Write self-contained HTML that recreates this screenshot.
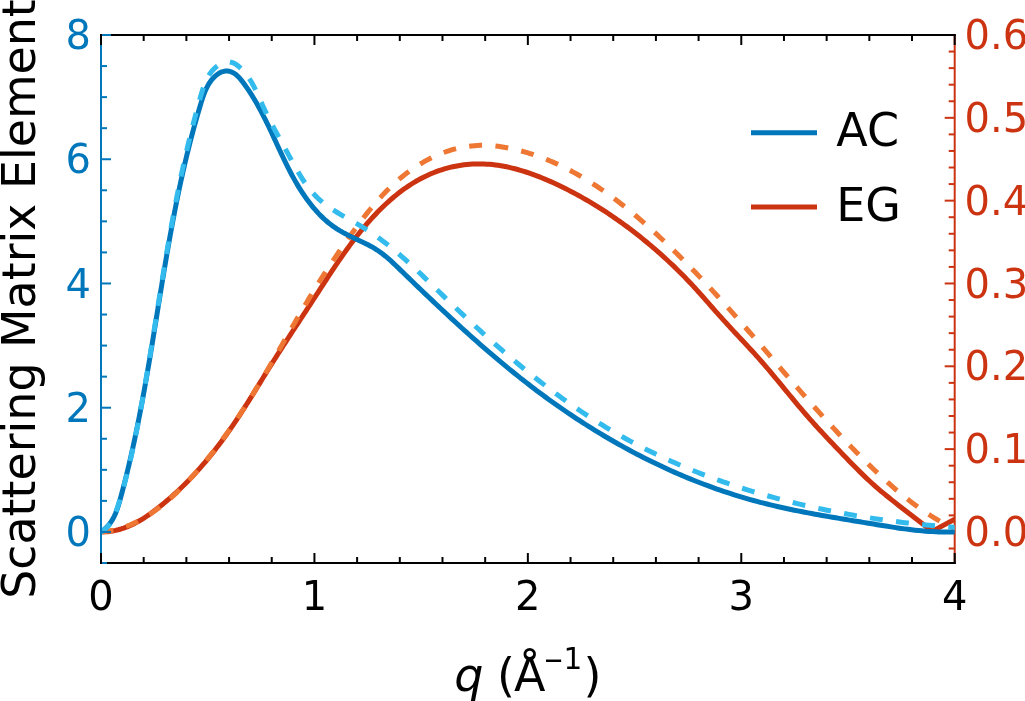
<!DOCTYPE html>
<html><head><meta charset="utf-8"><style>
html,body{margin:0;padding:0;background:#fff;overflow:hidden;}
svg{display:block;}
</style></head><body>
<svg width="1025" height="701" viewBox="0 0 1025 701">
<rect width="1025" height="701" fill="#fff"/>
<defs><clipPath id="ax"><rect x="101.0" y="35.0" width="853.7" height="528.0"/></clipPath></defs>
<line x1="954.70" y1="35.00" x2="954.70" y2="563.00" stroke="#CC3311" stroke-width="2"/>
<g><line x1="948.70" y1="548.51" x2="954.70" y2="548.51" stroke="#CC3311" stroke-width="2"/><line x1="944.70" y1="531.94" x2="954.70" y2="531.94" stroke="#CC3311" stroke-width="2"/><line x1="948.70" y1="515.38" x2="954.70" y2="515.38" stroke="#CC3311" stroke-width="2"/><line x1="948.70" y1="498.81" x2="954.70" y2="498.81" stroke="#CC3311" stroke-width="2"/><line x1="948.70" y1="482.25" x2="954.70" y2="482.25" stroke="#CC3311" stroke-width="2"/><line x1="948.70" y1="465.68" x2="954.70" y2="465.68" stroke="#CC3311" stroke-width="2"/><line x1="944.70" y1="449.12" x2="954.70" y2="449.12" stroke="#CC3311" stroke-width="2"/><line x1="948.70" y1="432.55" x2="954.70" y2="432.55" stroke="#CC3311" stroke-width="2"/><line x1="948.70" y1="415.99" x2="954.70" y2="415.99" stroke="#CC3311" stroke-width="2"/><line x1="948.70" y1="399.42" x2="954.70" y2="399.42" stroke="#CC3311" stroke-width="2"/><line x1="948.70" y1="382.86" x2="954.70" y2="382.86" stroke="#CC3311" stroke-width="2"/><line x1="944.70" y1="366.29" x2="954.70" y2="366.29" stroke="#CC3311" stroke-width="2"/><line x1="948.70" y1="349.73" x2="954.70" y2="349.73" stroke="#CC3311" stroke-width="2"/><line x1="948.70" y1="333.16" x2="954.70" y2="333.16" stroke="#CC3311" stroke-width="2"/><line x1="948.70" y1="316.60" x2="954.70" y2="316.60" stroke="#CC3311" stroke-width="2"/><line x1="948.70" y1="300.04" x2="954.70" y2="300.04" stroke="#CC3311" stroke-width="2"/><line x1="944.70" y1="283.47" x2="954.70" y2="283.47" stroke="#CC3311" stroke-width="2"/><line x1="948.70" y1="266.91" x2="954.70" y2="266.91" stroke="#CC3311" stroke-width="2"/><line x1="948.70" y1="250.34" x2="954.70" y2="250.34" stroke="#CC3311" stroke-width="2"/><line x1="948.70" y1="233.78" x2="954.70" y2="233.78" stroke="#CC3311" stroke-width="2"/><line x1="948.70" y1="217.21" x2="954.70" y2="217.21" stroke="#CC3311" stroke-width="2"/><line x1="944.70" y1="200.65" x2="954.70" y2="200.65" stroke="#CC3311" stroke-width="2"/><line x1="948.70" y1="184.08" x2="954.70" y2="184.08" stroke="#CC3311" stroke-width="2"/><line x1="948.70" y1="167.52" x2="954.70" y2="167.52" stroke="#CC3311" stroke-width="2"/><line x1="948.70" y1="150.95" x2="954.70" y2="150.95" stroke="#CC3311" stroke-width="2"/><line x1="948.70" y1="134.39" x2="954.70" y2="134.39" stroke="#CC3311" stroke-width="2"/><line x1="944.70" y1="117.82" x2="954.70" y2="117.82" stroke="#CC3311" stroke-width="2"/><line x1="948.70" y1="101.26" x2="954.70" y2="101.26" stroke="#CC3311" stroke-width="2"/><line x1="948.70" y1="84.69" x2="954.70" y2="84.69" stroke="#CC3311" stroke-width="2"/><line x1="948.70" y1="68.13" x2="954.70" y2="68.13" stroke="#CC3311" stroke-width="2"/><line x1="948.70" y1="51.56" x2="954.70" y2="51.56" stroke="#CC3311" stroke-width="2"/><line x1="944.70" y1="35.00" x2="954.70" y2="35.00" stroke="#CC3311" stroke-width="2"/></g>
<g clip-path="url(#ax)" fill="none" stroke-width="5" stroke-linejoin="round">
<path d="M101.00,531.90 L103.99,531.87 L106.94,531.70 L109.84,531.39 L112.69,530.97 L115.50,530.42 L118.27,529.76 L121.00,528.99 L123.69,528.11 L126.34,527.14 L128.95,526.07 L131.53,524.92 L134.07,523.69 L136.59,522.37 L139.07,520.99 L141.51,519.54 L143.94,518.04 L146.33,516.47 L148.70,514.86 L151.04,513.21 L153.36,511.51 L155.66,509.79 L157.94,508.03 L160.19,506.26 L162.43,504.46 L164.65,502.63 L166.85,500.79 L169.03,498.92 L171.19,497.03 L173.34,495.12 L175.46,493.19 L177.57,491.23 L179.66,489.26 L181.73,487.27 L183.78,485.26 L185.81,483.23 L187.83,481.18 L189.83,479.12 L191.81,477.04 L193.77,474.94 L195.72,472.82 L197.65,470.69 L199.56,468.54 L201.46,466.38 L203.34,464.20 L205.20,462.01 L207.05,459.80 L208.88,457.58 L210.70,455.35 L212.49,453.10 L214.28,450.84 L216.04,448.57 L217.80,446.29 L219.53,444.00 L221.25,441.70 L222.96,439.39 L224.65,437.06 L226.33,434.73 L227.99,432.39 L229.64,430.04 L231.27,427.68 L232.89,425.32 L234.50,422.95 L236.09,420.57 L237.68,418.18 L239.25,415.79 L240.81,413.39 L242.36,410.99 L243.91,408.58 L245.44,406.17 L246.97,403.75 L248.50,401.33 L250.02,398.91 L251.53,396.48 L253.04,394.06 L254.54,391.62 L256.05,389.19 L257.55,386.76 L259.05,384.32 L260.55,381.88 L262.05,379.45 L263.55,377.01 L265.05,374.57 L266.56,372.14 L268.06,369.70 L269.58,367.27 L271.09,364.84 L272.62,362.41 L274.14,359.98 L275.68,357.56 L277.22,355.14 L278.76,352.72 L280.31,350.30 L281.86,347.89 L283.42,345.47 L284.97,343.06 L286.54,340.65 L288.10,338.24 L289.67,335.83 L291.24,333.42 L292.81,331.01 L294.38,328.61 L295.96,326.20 L297.53,323.80 L299.11,321.40 L300.68,318.99 L302.26,316.59 L303.83,314.19 L305.41,311.78 L306.98,309.38 L308.55,306.97 L310.12,304.57 L311.69,302.16 L313.25,299.76 L314.82,297.35 L316.38,294.95 L317.94,292.54 L319.49,290.13 L321.05,287.72 L322.61,285.32 L324.17,282.92 L325.73,280.52 L327.29,278.12 L328.86,275.72 L330.43,273.33 L332.01,270.95 L333.60,268.56 L335.19,266.19 L336.79,263.82 L338.40,261.45 L340.02,259.09 L341.65,256.74 L343.29,254.40 L344.94,252.07 L346.60,249.74 L348.28,247.43 L349.97,245.12 L351.68,242.82 L353.40,240.54 L355.15,238.27 L356.90,236.01 L358.68,233.76 L360.48,231.52 L362.30,229.30 L364.13,227.09 L365.99,224.89 L367.87,222.71 L369.78,220.55 L371.71,218.40 L373.66,216.28 L375.64,214.17 L377.64,212.09 L379.66,210.03 L381.71,207.99 L383.78,205.98 L385.88,204.00 L388.01,202.05 L390.16,200.13 L392.33,198.24 L394.53,196.39 L396.76,194.58 L399.02,192.80 L401.30,191.06 L403.61,189.36 L405.94,187.70 L408.31,186.09 L410.70,184.52 L413.12,183.00 L415.56,181.53 L418.04,180.11 L420.54,178.74 L423.08,177.42 L425.64,176.15 L428.23,174.95 L430.86,173.80 L433.51,172.71 L436.19,171.68 L438.89,170.71 L441.62,169.80 L444.38,168.95 L447.15,168.17 L449.94,167.45 L452.74,166.79 L455.56,166.20 L458.39,165.67 L461.23,165.21 L464.07,164.82 L466.92,164.49 L469.77,164.23 L472.62,164.05 L475.47,163.93 L478.32,163.88 L481.16,163.89 L484.00,163.98 L486.84,164.13 L489.67,164.34 L492.50,164.61 L495.32,164.94 L498.14,165.33 L500.95,165.77 L503.75,166.27 L506.55,166.82 L509.34,167.42 L512.13,168.07 L514.90,168.77 L517.67,169.51 L520.44,170.30 L523.19,171.13 L525.94,172.00 L528.67,172.91 L531.40,173.86 L534.12,174.85 L536.82,175.86 L539.52,176.91 L542.21,177.99 L544.89,179.10 L547.55,180.24 L550.21,181.40 L552.85,182.59 L555.48,183.80 L558.10,185.03 L560.70,186.28 L563.29,187.55 L565.87,188.83 L568.44,190.13 L571.00,191.45 L573.54,192.79 L576.07,194.14 L578.59,195.52 L581.09,196.90 L583.59,198.31 L586.07,199.73 L588.54,201.17 L591.00,202.62 L593.44,204.10 L595.88,205.58 L598.30,207.09 L600.72,208.61 L603.12,210.15 L605.51,211.70 L607.89,213.27 L610.26,214.85 L612.62,216.45 L614.97,218.07 L617.31,219.70 L619.64,221.34 L621.96,223.00 L624.27,224.68 L626.56,226.37 L628.85,228.08 L631.13,229.80 L633.40,231.54 L635.66,233.29 L637.91,235.05 L640.16,236.83 L642.39,238.63 L644.61,240.44 L646.83,242.26 L649.03,244.09 L651.23,245.94 L653.42,247.81 L655.60,249.69 L657.76,251.58 L659.92,253.48 L662.07,255.40 L664.21,257.33 L666.33,259.27 L668.45,261.23 L670.55,263.20 L672.64,265.18 L674.72,267.17 L676.79,269.18 L678.84,271.20 L680.88,273.23 L682.90,275.27 L684.92,277.32 L686.92,279.39 L688.90,281.46 L690.87,283.55 L692.82,285.65 L694.76,287.76 L696.69,289.88 L698.60,292.01 L700.51,294.14 L702.41,296.28 L704.30,298.42 L706.18,300.57 L708.07,302.72 L709.95,304.87 L711.84,307.01 L713.73,309.15 L715.62,311.29 L717.52,313.43 L719.43,315.56 L721.34,317.68 L723.25,319.80 L725.17,321.91 L727.10,324.03 L729.03,326.13 L730.97,328.24 L732.91,330.33 L734.86,332.43 L736.81,334.52 L738.77,336.61 L740.72,338.70 L742.68,340.79 L744.63,342.88 L746.59,344.98 L748.53,347.08 L750.47,349.19 L752.40,351.30 L754.33,353.43 L756.24,355.56 L758.15,357.69 L760.05,359.84 L761.94,361.99 L763.82,364.15 L765.70,366.32 L767.56,368.50 L769.41,370.68 L771.26,372.88 L773.10,375.07 L774.94,377.28 L776.77,379.48 L778.59,381.70 L780.42,383.91 L782.24,386.13 L784.06,388.34 L785.88,390.56 L787.70,392.78 L789.52,394.99 L791.34,397.20 L793.17,399.42 L795.00,401.62 L796.83,403.83 L798.68,406.02 L800.52,408.22 L802.38,410.40 L804.24,412.58 L806.12,414.75 L808.00,416.91 L809.89,419.06 L811.80,421.20 L813.71,423.33 L815.63,425.46 L817.56,427.58 L819.50,429.69 L821.44,431.80 L823.40,433.90 L825.35,436.00 L827.31,438.09 L829.28,440.17 L831.25,442.26 L833.23,444.34 L835.21,446.42 L837.19,448.49 L839.17,450.57 L841.15,452.64 L843.14,454.71 L845.13,456.78 L847.12,458.85 L849.12,460.91 L851.12,462.97 L853.12,465.02 L855.14,467.06 L857.16,469.09 L859.19,471.11 L861.24,473.12 L863.29,475.12 L865.36,477.11 L867.44,479.08 L869.53,481.03 L871.64,482.97 L873.77,484.89 L875.91,486.79 L878.07,488.66 L880.24,490.53 L882.44,492.37 L884.64,494.20 L886.86,496.01 L889.09,497.81 L891.33,499.60 L893.58,501.38 L895.83,503.15 L898.09,504.91 L900.36,506.67 L902.63,508.42 L904.91,510.17 L907.19,511.92 L909.46,513.67 L911.74,515.41 L914.01,517.16 L916.29,518.92 L918.55,520.67 L920.82,522.44 L923.07,524.21 L925.32,525.99 L927.56,527.78 L929.78,529.58 L932.00,531.40" stroke="#CC3311"/>
<path d="M932.00,531.40 L957.00,518.00" stroke="#CC3311"/>
<path d="M101.00,531.91 L104.04,531.65 L107.05,531.29 L110.02,530.83 L112.95,530.27 L115.84,529.61 L118.70,528.87 L121.52,528.03 L124.30,527.11 L127.06,526.11 L129.78,525.03 L132.46,523.87 L135.12,522.64 L137.74,521.35 L140.34,519.98 L142.90,518.56 L145.43,517.07 L147.93,515.53 L150.41,513.93 L152.86,512.28 L155.28,510.57 L157.67,508.82 L160.03,507.02 L162.37,505.18 L164.69,503.30 L166.98,501.38 L169.24,499.42 L171.48,497.43 L173.70,495.40 L175.89,493.34 L178.06,491.26 L180.21,489.15 L182.34,487.02 L184.45,484.86 L186.54,482.69 L188.60,480.50 L190.65,478.30 L192.68,476.08 L194.68,473.86 L196.68,471.62 L198.65,469.36 L200.60,467.10 L202.54,464.83 L204.46,462.54 L206.36,460.24 L208.25,457.93 L210.12,455.61 L211.97,453.28 L213.81,450.94 L215.64,448.59 L217.45,446.23 L219.24,443.86 L221.02,441.48 L222.79,439.09 L224.54,436.69 L226.28,434.29 L228.01,431.87 L229.72,429.44 L231.42,427.01 L233.11,424.57 L234.79,422.12 L236.46,419.66 L238.11,417.20 L239.76,414.72 L241.39,412.24 L243.02,409.75 L244.63,407.26 L246.24,404.76 L247.84,402.25 L249.42,399.73 L251.00,397.21 L252.57,394.69 L254.14,392.15 L255.69,389.62 L257.24,387.07 L258.79,384.52 L260.32,381.97 L261.85,379.42 L263.38,376.85 L264.90,374.29 L266.41,371.72 L267.93,369.15 L269.43,366.58 L270.94,364.00 L272.43,361.42 L273.93,358.84 L275.43,356.26 L276.92,353.68 L278.41,351.09 L279.90,348.51 L281.38,345.92 L282.87,343.34 L284.36,340.75 L285.84,338.17 L287.33,335.58 L288.82,333.00 L290.30,330.42 L291.79,327.83 L293.28,325.25 L294.78,322.68 L296.27,320.10 L297.77,317.53 L299.27,314.96 L300.78,312.39 L302.29,309.83 L303.80,307.27 L305.32,304.72 L306.84,302.17 L308.37,299.62 L309.90,297.08 L311.44,294.54 L312.99,292.01 L314.54,289.48 L316.10,286.96 L317.66,284.44 L319.24,281.93 L320.82,279.42 L322.40,276.92 L324.00,274.42 L325.60,271.93 L327.21,269.44 L328.83,266.95 L330.45,264.47 L332.09,261.99 L333.73,259.52 L335.38,257.05 L337.04,254.58 L338.71,252.12 L340.39,249.67 L342.08,247.21 L343.78,244.77 L345.49,242.32 L347.21,239.88 L348.94,237.45 L350.69,235.01 L352.44,232.59 L354.20,230.16 L355.98,227.74 L357.76,225.33 L359.56,222.92 L361.38,220.53 L363.21,218.14 L365.06,215.76 L366.92,213.40 L368.81,211.05 L370.71,208.72 L372.63,206.41 L374.57,204.12 L376.54,201.85 L378.52,199.60 L380.54,197.37 L382.57,195.17 L384.63,192.99 L386.72,190.85 L388.84,188.73 L390.98,186.65 L393.15,184.59 L395.36,182.57 L397.59,180.59 L399.86,178.64 L402.16,176.74 L404.49,174.87 L406.86,173.04 L409.26,171.26 L411.70,169.52 L414.16,167.83 L416.66,166.19 L419.19,164.60 L421.74,163.05 L424.32,161.56 L426.93,160.13 L429.57,158.75 L432.23,157.43 L434.91,156.17 L437.62,154.97 L440.35,153.83 L443.10,152.75 L445.87,151.75 L448.66,150.80 L451.47,149.93 L454.29,149.13 L457.13,148.40 L459.99,147.75 L462.86,147.17 L465.75,146.67 L468.64,146.24 L471.55,145.90 L474.47,145.64 L477.40,145.46 L480.34,145.36 L483.28,145.34 L486.23,145.40 L489.18,145.53 L492.14,145.73 L495.09,145.99 L498.05,146.33 L501.00,146.72 L503.95,147.18 L506.90,147.69 L509.83,148.26 L512.77,148.88 L515.69,149.55 L518.60,150.26 L521.50,151.03 L524.38,151.83 L527.25,152.68 L530.10,153.56 L532.94,154.48 L535.77,155.43 L538.57,156.42 L541.36,157.45 L544.14,158.51 L546.90,159.61 L549.64,160.74 L552.38,161.90 L555.09,163.10 L557.79,164.33 L560.48,165.59 L563.15,166.87 L565.81,168.19 L568.45,169.54 L571.08,170.92 L573.69,172.33 L576.29,173.76 L578.88,175.23 L581.45,176.71 L584.01,178.23 L586.56,179.77 L589.09,181.33 L591.61,182.92 L594.12,184.53 L596.62,186.17 L599.10,187.83 L601.57,189.51 L604.02,191.21 L606.47,192.93 L608.90,194.68 L611.32,196.44 L613.73,198.22 L616.12,200.02 L618.51,201.84 L620.88,203.67 L623.24,205.53 L625.59,207.39 L627.93,209.28 L630.25,211.18 L632.57,213.09 L634.88,215.02 L637.17,216.96 L639.45,218.91 L641.73,220.87 L643.99,222.85 L646.24,224.84 L648.49,226.84 L650.72,228.84 L652.94,230.86 L655.16,232.88 L657.36,234.92 L659.55,236.96 L661.74,239.00 L663.91,241.06 L666.08,243.12 L668.24,245.18 L670.39,247.26 L672.53,249.34 L674.66,251.42 L676.78,253.52 L678.90,255.61 L681.01,257.72 L683.11,259.83 L685.20,261.94 L687.29,264.07 L689.37,266.19 L691.44,268.32 L693.50,270.46 L695.56,272.60 L697.62,274.75 L699.66,276.90 L701.70,279.06 L703.74,281.22 L705.77,283.39 L707.79,285.56 L709.81,287.74 L711.82,289.92 L713.83,292.10 L715.83,294.29 L717.83,296.48 L719.82,298.67 L721.81,300.87 L723.80,303.08 L725.78,305.28 L727.76,307.49 L729.73,309.71 L731.70,311.92 L733.67,314.14 L735.63,316.36 L737.59,318.59 L739.55,320.82 L741.51,323.05 L743.46,325.28 L745.42,327.51 L747.37,329.75 L749.31,331.99 L751.26,334.23 L753.21,336.48 L755.15,338.72 L757.09,340.97 L759.03,343.22 L760.97,345.47 L762.91,347.72 L764.85,349.97 L766.79,352.23 L768.73,354.48 L770.67,356.74 L772.61,358.99 L774.55,361.25 L776.49,363.51 L778.43,365.77 L780.38,368.03 L782.32,370.28 L784.26,372.54 L786.21,374.80 L788.16,377.05 L790.10,379.31 L792.05,381.56 L794.01,383.82 L795.96,386.07 L797.92,388.32 L799.88,390.57 L801.84,392.81 L803.80,395.06 L805.77,397.30 L807.74,399.54 L809.71,401.78 L811.69,404.01 L813.67,406.25 L815.65,408.47 L817.64,410.70 L819.63,412.92 L821.63,415.14 L823.63,417.35 L825.63,419.57 L827.64,421.77 L829.66,423.97 L831.67,426.17 L833.70,428.37 L835.73,430.55 L837.76,432.74 L839.80,434.92 L841.85,437.09 L843.90,439.26 L845.95,441.42 L848.02,443.57 L850.09,445.72 L852.16,447.87 L854.24,450.01 L856.33,452.14 L858.43,454.26 L860.53,456.38 L862.64,458.49 L864.76,460.59 L866.88,462.69 L869.02,464.78 L871.16,466.86 L873.31,468.93 L875.46,470.99 L877.63,473.05 L879.80,475.09 L881.99,477.13 L884.18,479.15 L886.39,481.16 L888.60,483.15 L890.83,485.13 L893.07,487.10 L895.32,489.05 L897.58,490.98 L899.86,492.90 L902.15,494.79 L904.46,496.67 L906.78,498.52 L909.12,500.36 L911.47,502.17 L913.84,503.96 L916.22,505.73 L918.62,507.47 L921.04,509.18 L923.48,510.87 L925.93,512.53 L928.41,514.16 L930.90,515.77 L933.41,517.34 L935.95,518.88 L938.50,520.39 L941.08,521.87 L943.67,523.31 L946.29,524.72 L948.93,526.10 L951.60,527.44 L954.29,528.74 L957.00,530.01" stroke="#EE7733" stroke-dasharray="12.9 13.38" stroke-dashoffset="0.5"/>
</g>
<g clip-path="url(#ax)" fill="none" stroke-width="5" stroke-linejoin="round">
<path d="M101.00,531.90 L103.98,529.70 L106.62,527.30 L108.94,524.71 L110.98,521.96 L112.78,519.07 L114.35,516.06 L115.74,512.94 L116.97,509.73 L118.08,506.45 L119.10,503.12 L120.05,499.76 L120.97,496.38 L121.88,493.00 L122.78,489.61 L123.67,486.23 L124.54,482.83 L125.40,479.44 L126.24,476.04 L127.08,472.64 L127.90,469.24 L128.72,465.83 L129.52,462.42 L130.31,459.01 L131.09,455.59 L131.86,452.17 L132.62,448.75 L133.37,445.33 L134.11,441.90 L134.84,438.48 L135.56,435.05 L136.27,431.62 L136.98,428.19 L137.67,424.75 L138.36,421.32 L139.04,417.88 L139.71,414.44 L140.38,411.00 L141.03,407.56 L141.68,404.12 L142.33,400.67 L142.96,397.23 L143.59,393.79 L144.22,390.34 L144.84,386.90 L145.45,383.45 L146.06,380.01 L146.66,376.56 L147.26,373.11 L147.85,369.67 L148.44,366.22 L149.03,362.78 L149.61,359.33 L150.19,355.89 L150.76,352.44 L151.33,349.00 L151.90,345.55 L152.47,342.11 L153.03,338.67 L153.59,335.22 L154.15,331.78 L154.71,328.34 L155.27,324.90 L155.83,321.45 L156.38,318.01 L156.94,314.57 L157.49,311.13 L158.05,307.69 L158.60,304.25 L159.16,300.81 L159.72,297.37 L160.27,293.93 L160.83,290.49 L161.40,287.05 L161.96,283.62 L162.52,280.18 L163.09,276.74 L163.66,273.31 L164.23,269.87 L164.81,266.44 L165.39,263.00 L165.97,259.57 L166.56,256.14 L167.15,252.70 L167.75,249.27 L168.35,245.84 L168.95,242.41 L169.56,238.98 L170.18,235.55 L170.80,232.12 L171.43,228.69 L172.06,225.26 L172.70,221.83 L173.35,218.41 L174.01,214.98 L174.67,211.56 L175.34,208.13 L176.01,204.71 L176.70,201.28 L177.39,197.86 L178.09,194.44 L178.81,191.02 L179.53,187.60 L180.25,184.18 L180.99,180.76 L181.74,177.34 L182.50,173.92 L183.27,170.51 L184.05,167.09 L184.84,163.68 L185.64,160.26 L186.46,156.85 L187.28,153.44 L188.12,150.03 L188.97,146.62 L189.83,143.21 L190.70,139.80 L191.59,136.39 L192.49,132.99 L193.40,129.58 L194.33,126.18 L195.27,122.77 L196.23,119.37 L197.20,115.97 L198.18,112.57 L199.18,109.17 L200.20,105.77 L201.23,102.37 L202.29,98.99 L203.43,95.64 L204.67,92.35 L206.05,89.15 L207.61,86.04 L209.37,83.06 L211.38,80.23 L213.66,77.58 L216.20,75.20 L218.95,73.23 L221.85,71.81 L224.86,71.08 L227.88,71.03 L230.85,71.65 L233.67,72.94 L236.31,74.83 L238.77,77.20 L241.09,79.89 L243.31,82.78 L245.45,85.72 L247.52,88.68 L249.52,91.67 L251.46,94.68 L253.35,97.71 L255.17,100.77 L256.95,103.84 L258.68,106.92 L260.37,110.03 L262.02,113.14 L263.63,116.27 L265.21,119.40 L266.77,122.55 L268.29,125.70 L269.80,128.86 L271.29,132.02 L272.76,135.18 L274.22,138.35 L275.68,141.51 L277.14,144.68 L278.59,147.84 L280.05,150.99 L281.52,154.13 L283.00,157.27 L284.50,160.40 L286.01,163.52 L287.55,166.62 L289.11,169.71 L290.71,172.78 L292.34,175.84 L294.01,178.87 L295.71,181.89 L297.47,184.88 L299.27,187.85 L301.13,190.79 L303.04,193.70 L305.01,196.59 L307.04,199.45 L309.15,202.27 L311.32,205.06 L313.56,207.80 L315.87,210.49 L318.25,213.11 L320.70,215.66 L323.22,218.12 L325.81,220.48 L328.47,222.74 L331.21,224.89 L334.01,226.92 L336.88,228.84 L339.81,230.66 L342.81,232.39 L345.87,234.05 L348.98,235.63 L352.14,237.17 L355.32,238.68 L358.51,240.18 L361.70,241.69 L364.87,243.22 L368.00,244.80 L371.09,246.45 L374.12,248.18 L377.07,250.02 L379.93,251.97 L382.72,254.04 L385.43,256.20 L388.08,258.44 L390.68,260.74 L393.24,263.10 L395.78,265.50 L398.29,267.92 L400.80,270.35 L403.31,272.78 L405.82,275.22 L408.34,277.65 L410.85,280.07 L413.37,282.50 L415.89,284.93 L418.41,287.35 L420.93,289.77 L423.46,292.19 L425.99,294.60 L428.52,297.01 L431.06,299.42 L433.60,301.82 L436.14,304.22 L438.68,306.62 L441.23,309.01 L443.79,311.40 L446.34,313.79 L448.90,316.17 L451.47,318.54 L454.04,320.91 L456.62,323.27 L459.20,325.63 L461.78,327.98 L464.37,330.33 L466.97,332.67 L469.57,335.00 L472.17,337.33 L474.79,339.65 L477.40,341.96 L480.03,344.27 L482.66,346.57 L485.30,348.86 L487.94,351.14 L490.59,353.41 L493.25,355.68 L495.91,357.94 L498.58,360.19 L501.26,362.43 L503.94,364.66 L506.64,366.88 L509.34,369.09 L512.05,371.29 L514.76,373.49 L517.49,375.67 L520.22,377.84 L522.97,380.00 L525.72,382.15 L528.48,384.29 L531.24,386.42 L534.02,388.54 L536.81,390.64 L539.61,392.73 L542.41,394.81 L545.23,396.88 L548.05,398.94 L550.89,400.98 L553.73,403.01 L556.59,405.03 L559.45,407.04 L562.32,409.03 L565.21,411.01 L568.10,412.98 L571.00,414.93 L573.91,416.87 L576.83,418.79 L579.75,420.71 L582.69,422.60 L585.64,424.49 L588.59,426.36 L591.55,428.21 L594.53,430.05 L597.51,431.88 L600.50,433.69 L603.50,435.48 L606.51,437.27 L609.52,439.03 L612.55,440.78 L615.58,442.52 L618.62,444.24 L621.67,445.94 L624.73,447.63 L627.80,449.30 L630.87,450.95 L633.96,452.59 L637.05,454.21 L640.15,455.82 L643.26,457.41 L646.38,458.98 L649.50,460.54 L652.64,462.07 L655.78,463.59 L658.93,465.10 L662.08,466.58 L665.25,468.05 L668.42,469.50 L671.60,470.93 L674.79,472.35 L677.99,473.74 L681.19,475.12 L684.40,476.48 L687.62,477.82 L690.85,479.14 L694.09,480.45 L697.33,481.73 L700.58,482.99 L703.83,484.24 L707.10,485.46 L710.37,486.67 L713.65,487.86 L716.94,489.02 L720.23,490.17 L723.53,491.29 L726.84,492.40 L730.15,493.48 L733.47,494.55 L736.80,495.59 L740.14,496.62 L743.48,497.62 L746.83,498.60 L750.19,499.56 L753.55,500.50 L756.92,501.41 L760.30,502.31 L763.68,503.18 L767.07,504.04 L770.47,504.87 L773.87,505.68 L777.28,506.47 L780.69,507.25 L784.10,508.01 L787.53,508.75 L790.95,509.48 L794.38,510.19 L797.82,510.89 L801.25,511.57 L804.69,512.24 L808.14,512.90 L811.58,513.55 L815.03,514.18 L818.48,514.81 L821.93,515.43 L825.38,516.03 L828.84,516.64 L832.29,517.23 L835.75,517.82 L839.20,518.40 L842.66,518.98 L846.11,519.55 L849.57,520.12 L853.02,520.69 L856.47,521.26 L859.93,521.83 L863.37,522.39 L866.82,522.96 L870.27,523.52 L873.71,524.09 L877.15,524.66 L880.59,525.22 L884.02,525.78 L887.46,526.33 L890.90,526.87 L894.33,527.40 L897.77,527.91 L901.21,528.41 L904.66,528.88 L908.10,529.33 L911.56,529.75 L915.01,530.15 L918.47,530.51 L921.93,530.84 L925.40,531.14 L928.88,531.40 L932.37,531.62 L935.86,531.79 L939.36,531.92 L942.87,532.00 L946.38,532.03 L949.91,532.01 L953.45,531.93 L957.00,531.80" stroke="#0077BB"/>
<path d="M101.00,531.90 L104.12,529.89 L106.81,527.57 L109.12,524.99 L111.11,522.18 L112.82,519.19 L114.30,516.04 L115.60,512.78 L116.79,509.44 L117.89,506.07 L118.96,502.69 L120.01,499.30 L121.02,495.92 L122.02,492.53 L122.98,489.14 L123.93,485.75 L124.85,482.35 L125.75,478.96 L126.62,475.56 L127.48,472.15 L128.32,468.75 L129.14,465.34 L129.94,461.94 L130.73,458.53 L131.50,455.11 L132.25,451.70 L133.00,448.28 L133.72,444.86 L134.44,441.43 L135.14,438.01 L135.84,434.58 L136.52,431.15 L137.20,427.71 L137.86,424.28 L138.53,420.84 L139.18,417.40 L139.83,413.95 L140.47,410.51 L141.11,407.06 L141.74,403.61 L142.36,400.16 L142.98,396.70 L143.59,393.25 L144.20,389.79 L144.81,386.33 L145.41,382.86 L146.01,379.40 L146.60,375.94 L147.19,372.47 L147.77,369.00 L148.35,365.53 L148.93,362.06 L149.51,358.59 L150.08,355.12 L150.65,351.65 L151.22,348.17 L151.78,344.70 L152.35,341.22 L152.91,337.75 L153.47,334.27 L154.03,330.79 L154.59,327.31 L155.14,323.84 L155.70,320.36 L156.26,316.88 L156.81,313.40 L157.37,309.93 L157.92,306.45 L158.48,302.97 L159.04,299.50 L159.60,296.02 L160.15,292.54 L160.71,289.07 L161.28,285.60 L161.84,282.12 L162.40,278.65 L162.97,275.18 L163.54,271.71 L164.11,268.24 L164.68,264.77 L165.26,261.30 L165.84,257.84 L166.43,254.37 L167.01,250.91 L167.60,247.45 L168.20,243.99 L168.80,240.53 L169.40,237.08 L170.01,233.63 L170.62,230.17 L171.24,226.73 L171.86,223.28 L172.49,219.83 L173.12,216.39 L173.76,212.95 L174.40,209.52 L175.06,206.08 L175.71,202.65 L176.38,199.22 L177.05,195.80 L177.73,192.37 L178.41,188.95 L179.11,185.54 L179.81,182.13 L180.52,178.72 L181.23,175.31 L181.96,171.91 L182.69,168.50 L183.43,165.10 L184.19,161.70 L184.95,158.30 L185.72,154.90 L186.50,151.50 L187.29,148.10 L188.09,144.69 L188.91,141.29 L189.73,137.87 L190.57,134.46 L191.42,131.04 L192.28,127.61 L193.15,124.18 L194.04,120.74 L194.94,117.29 L195.85,113.84 L196.78,110.38 L197.72,106.91 L198.67,103.43 L199.64,99.93 L200.62,96.43 L201.64,92.94 L202.72,89.48 L203.88,86.09 L205.16,82.78 L206.59,79.60 L208.18,76.56 L209.96,73.69 L211.98,71.03 L214.24,68.59 L216.78,66.41 L219.62,64.52 L222.74,63.01 L226.00,62.06 L229.28,61.87 L232.45,62.58 L235.47,64.06 L238.32,66.10 L240.99,68.49 L243.46,71.05 L245.75,73.76 L247.87,76.59 L249.85,79.53 L251.70,82.56 L253.44,85.68 L255.08,88.86 L256.65,92.08 L258.17,95.35 L259.64,98.63 L261.09,101.91 L262.55,105.18 L264.01,108.42 L265.51,111.63 L267.03,114.80 L268.58,117.93 L270.15,121.04 L271.75,124.13 L273.36,127.19 L275.00,130.24 L276.64,133.28 L278.31,136.32 L279.98,139.35 L281.66,142.39 L283.35,145.43 L285.04,148.48 L286.74,151.55 L288.43,154.64 L290.13,157.74 L291.83,160.86 L293.55,163.98 L295.29,167.10 L297.06,170.20 L298.86,173.27 L300.71,176.31 L302.62,179.31 L304.58,182.25 L306.60,185.13 L308.70,187.94 L310.88,190.67 L313.15,193.32 L315.52,195.86 L317.99,198.29 L320.56,200.62 L323.24,202.84 L326.00,204.97 L328.83,207.01 L331.74,208.98 L334.71,210.89 L337.72,212.75 L340.77,214.57 L343.85,216.36 L346.95,218.13 L350.06,219.88 L353.17,221.64 L356.27,223.41 L359.35,225.20 L362.39,227.03 L365.40,228.89 L368.37,230.80 L371.30,232.74 L374.20,234.72 L377.06,236.74 L379.89,238.79 L382.69,240.88 L385.46,243.00 L388.20,245.15 L390.91,247.33 L393.60,249.53 L396.27,251.76 L398.92,254.02 L401.54,256.29 L404.15,258.59 L406.74,260.91 L409.31,263.25 L411.87,265.61 L414.42,267.98 L416.95,270.36 L419.48,272.76 L422.00,275.17 L424.51,277.59 L427.02,280.01 L429.52,282.45 L432.02,284.89 L434.52,287.33 L437.02,289.77 L439.53,292.22 L442.04,294.66 L444.55,297.11 L447.07,299.55 L449.60,301.98 L452.13,304.42 L454.67,306.85 L457.21,309.28 L459.76,311.70 L462.32,314.12 L464.88,316.53 L467.45,318.94 L470.03,321.35 L472.61,323.75 L475.20,326.15 L477.80,328.53 L480.40,330.92 L483.01,333.29 L485.63,335.66 L488.25,338.03 L490.88,340.38 L493.52,342.73 L496.17,345.07 L498.82,347.40 L501.48,349.73 L504.15,352.04 L506.82,354.35 L509.51,356.65 L512.20,358.93 L514.90,361.21 L517.60,363.48 L520.32,365.74 L523.04,367.98 L525.77,370.22 L528.51,372.45 L531.26,374.66 L534.02,376.86 L536.78,379.05 L539.56,381.23 L542.34,383.39 L545.13,385.54 L547.93,387.68 L550.74,389.81 L553.56,391.92 L556.39,394.02 L559.22,396.10 L562.07,398.17 L564.92,400.22 L567.79,402.26 L570.66,404.29 L573.55,406.30 L576.44,408.29 L579.34,410.26 L582.26,412.22 L585.18,414.16 L588.11,416.09 L591.05,418.00 L594.01,419.89 L596.97,421.76 L599.94,423.61 L602.93,425.45 L605.92,427.27 L608.93,429.06 L611.94,430.84 L614.97,432.60 L618.00,434.34 L621.05,436.07 L624.10,437.77 L627.17,439.46 L630.24,441.13 L633.33,442.77 L636.42,444.41 L639.52,446.02 L642.64,447.61 L645.76,449.19 L648.89,450.75 L652.03,452.29 L655.18,453.81 L658.33,455.32 L661.50,456.81 L664.67,458.28 L667.86,459.73 L671.05,461.16 L674.25,462.58 L677.45,463.98 L680.67,465.37 L683.89,466.73 L687.12,468.08 L690.36,469.42 L693.60,470.73 L696.85,472.03 L700.11,473.31 L703.38,474.58 L706.66,475.83 L709.94,477.06 L713.22,478.28 L716.52,479.48 L719.82,480.66 L723.13,481.83 L726.44,482.98 L729.76,484.12 L733.08,485.24 L736.42,486.34 L739.75,487.43 L743.10,488.50 L746.45,489.56 L749.80,490.60 L753.16,491.63 L756.53,492.64 L759.90,493.63 L763.27,494.61 L766.65,495.58 L770.04,496.53 L773.43,497.46 L776.83,498.38 L780.23,499.29 L783.63,500.18 L787.04,501.05 L790.45,501.92 L793.87,502.76 L797.29,503.59 L800.71,504.41 L804.14,505.22 L807.57,506.01 L811.01,506.78 L814.45,507.54 L817.89,508.29 L821.33,509.02 L824.78,509.74 L828.23,510.45 L831.69,511.14 L835.14,511.82 L838.60,512.48 L842.07,513.13 L845.53,513.77 L849.00,514.40 L852.47,515.01 L855.94,515.61 L859.41,516.19 L862.89,516.76 L866.36,517.32 L869.84,517.87 L873.32,518.40 L876.80,518.93 L880.28,519.43 L883.77,519.93 L887.25,520.41 L890.74,520.89 L894.23,521.34 L897.71,521.79 L901.20,522.23 L904.69,522.65 L908.18,523.06 L911.67,523.46 L915.16,523.85 L918.64,524.22 L922.13,524.58 L925.62,524.94 L929.11,525.28 L932.60,525.61 L936.09,525.92 L939.58,526.23 L943.06,526.52 L946.55,526.81 L950.03,527.08 L953.52,527.34 L957.00,527.60" stroke="#33BBEE" stroke-dasharray="12.9 13.38" stroke-dashoffset="0.5"/>
</g>
<line x1="100.00" y1="35.00" x2="955.70" y2="35.00" stroke="#000" stroke-width="2"/>
<line x1="100.00" y1="563.00" x2="955.70" y2="563.00" stroke="#000" stroke-width="2"/>
<line x1="101.00" y1="35.00" x2="101.00" y2="563.00" stroke="#0077BB" stroke-width="2"/>
<g><line x1="100.00" y1="563.00" x2="107.00" y2="563.00" stroke="#0077BB" stroke-width="2"/><line x1="100.00" y1="531.94" x2="111.00" y2="531.94" stroke="#0077BB" stroke-width="2"/><line x1="100.00" y1="500.88" x2="107.00" y2="500.88" stroke="#0077BB" stroke-width="2"/><line x1="100.00" y1="469.82" x2="107.00" y2="469.82" stroke="#0077BB" stroke-width="2"/><line x1="100.00" y1="438.76" x2="107.00" y2="438.76" stroke="#0077BB" stroke-width="2"/><line x1="100.00" y1="407.71" x2="111.00" y2="407.71" stroke="#0077BB" stroke-width="2"/><line x1="100.00" y1="376.65" x2="107.00" y2="376.65" stroke="#0077BB" stroke-width="2"/><line x1="100.00" y1="345.59" x2="107.00" y2="345.59" stroke="#0077BB" stroke-width="2"/><line x1="100.00" y1="314.53" x2="107.00" y2="314.53" stroke="#0077BB" stroke-width="2"/><line x1="100.00" y1="283.47" x2="111.00" y2="283.47" stroke="#0077BB" stroke-width="2"/><line x1="100.00" y1="252.41" x2="107.00" y2="252.41" stroke="#0077BB" stroke-width="2"/><line x1="100.00" y1="221.35" x2="107.00" y2="221.35" stroke="#0077BB" stroke-width="2"/><line x1="100.00" y1="190.29" x2="107.00" y2="190.29" stroke="#0077BB" stroke-width="2"/><line x1="100.00" y1="159.24" x2="111.00" y2="159.24" stroke="#0077BB" stroke-width="2"/><line x1="100.00" y1="128.18" x2="107.00" y2="128.18" stroke="#0077BB" stroke-width="2"/><line x1="100.00" y1="97.12" x2="107.00" y2="97.12" stroke="#0077BB" stroke-width="2"/><line x1="100.00" y1="66.06" x2="107.00" y2="66.06" stroke="#0077BB" stroke-width="2"/><line x1="100.00" y1="35.00" x2="111.00" y2="35.00" stroke="#0077BB" stroke-width="2"/><line x1="101.00" y1="564.00" x2="101.00" y2="553.00" stroke="#000" stroke-width="2"/><line x1="101.00" y1="34.00" x2="101.00" y2="45.00" stroke="#000" stroke-width="2"/><line x1="143.69" y1="564.00" x2="143.69" y2="557.00" stroke="#000" stroke-width="2"/><line x1="143.69" y1="34.00" x2="143.69" y2="41.00" stroke="#000" stroke-width="2"/><line x1="186.37" y1="564.00" x2="186.37" y2="557.00" stroke="#000" stroke-width="2"/><line x1="186.37" y1="34.00" x2="186.37" y2="41.00" stroke="#000" stroke-width="2"/><line x1="229.06" y1="564.00" x2="229.06" y2="557.00" stroke="#000" stroke-width="2"/><line x1="229.06" y1="34.00" x2="229.06" y2="41.00" stroke="#000" stroke-width="2"/><line x1="271.74" y1="564.00" x2="271.74" y2="557.00" stroke="#000" stroke-width="2"/><line x1="271.74" y1="34.00" x2="271.74" y2="41.00" stroke="#000" stroke-width="2"/><line x1="314.43" y1="564.00" x2="314.43" y2="553.00" stroke="#000" stroke-width="2"/><line x1="314.43" y1="34.00" x2="314.43" y2="45.00" stroke="#000" stroke-width="2"/><line x1="357.11" y1="564.00" x2="357.11" y2="557.00" stroke="#000" stroke-width="2"/><line x1="357.11" y1="34.00" x2="357.11" y2="41.00" stroke="#000" stroke-width="2"/><line x1="399.80" y1="564.00" x2="399.80" y2="557.00" stroke="#000" stroke-width="2"/><line x1="399.80" y1="34.00" x2="399.80" y2="41.00" stroke="#000" stroke-width="2"/><line x1="442.48" y1="564.00" x2="442.48" y2="557.00" stroke="#000" stroke-width="2"/><line x1="442.48" y1="34.00" x2="442.48" y2="41.00" stroke="#000" stroke-width="2"/><line x1="485.17" y1="564.00" x2="485.17" y2="557.00" stroke="#000" stroke-width="2"/><line x1="485.17" y1="34.00" x2="485.17" y2="41.00" stroke="#000" stroke-width="2"/><line x1="527.85" y1="564.00" x2="527.85" y2="553.00" stroke="#000" stroke-width="2"/><line x1="527.85" y1="34.00" x2="527.85" y2="45.00" stroke="#000" stroke-width="2"/><line x1="570.54" y1="564.00" x2="570.54" y2="557.00" stroke="#000" stroke-width="2"/><line x1="570.54" y1="34.00" x2="570.54" y2="41.00" stroke="#000" stroke-width="2"/><line x1="613.22" y1="564.00" x2="613.22" y2="557.00" stroke="#000" stroke-width="2"/><line x1="613.22" y1="34.00" x2="613.22" y2="41.00" stroke="#000" stroke-width="2"/><line x1="655.91" y1="564.00" x2="655.91" y2="557.00" stroke="#000" stroke-width="2"/><line x1="655.91" y1="34.00" x2="655.91" y2="41.00" stroke="#000" stroke-width="2"/><line x1="698.59" y1="564.00" x2="698.59" y2="557.00" stroke="#000" stroke-width="2"/><line x1="698.59" y1="34.00" x2="698.59" y2="41.00" stroke="#000" stroke-width="2"/><line x1="741.28" y1="564.00" x2="741.28" y2="553.00" stroke="#000" stroke-width="2"/><line x1="741.28" y1="34.00" x2="741.28" y2="45.00" stroke="#000" stroke-width="2"/><line x1="783.96" y1="564.00" x2="783.96" y2="557.00" stroke="#000" stroke-width="2"/><line x1="783.96" y1="34.00" x2="783.96" y2="41.00" stroke="#000" stroke-width="2"/><line x1="826.65" y1="564.00" x2="826.65" y2="557.00" stroke="#000" stroke-width="2"/><line x1="826.65" y1="34.00" x2="826.65" y2="41.00" stroke="#000" stroke-width="2"/><line x1="869.33" y1="564.00" x2="869.33" y2="557.00" stroke="#000" stroke-width="2"/><line x1="869.33" y1="34.00" x2="869.33" y2="41.00" stroke="#000" stroke-width="2"/><line x1="912.02" y1="564.00" x2="912.02" y2="557.00" stroke="#000" stroke-width="2"/><line x1="912.02" y1="34.00" x2="912.02" y2="41.00" stroke="#000" stroke-width="2"/><line x1="954.70" y1="564.00" x2="954.70" y2="553.00" stroke="#000" stroke-width="2"/><line x1="954.70" y1="34.00" x2="954.70" y2="45.00" stroke="#000" stroke-width="2"/></g>
<g font-family="'DejaVu Sans', 'Liberation Sans', sans-serif" font-size="40px"><text x="91" y="546.04" text-anchor="end" fill="#0077BB">0</text><text x="91" y="421.81" text-anchor="end" fill="#0077BB">2</text><text x="91" y="297.57" text-anchor="end" fill="#0077BB">4</text><text x="91" y="173.34" text-anchor="end" fill="#0077BB">6</text><text x="91" y="49.10" text-anchor="end" fill="#0077BB">8</text><text x="964.6" y="546.04" fill="#CC3311">0.0</text><text x="964.6" y="463.22" fill="#CC3311">0.1</text><text x="964.6" y="380.39" fill="#CC3311">0.2</text><text x="964.6" y="297.57" fill="#CC3311">0.3</text><text x="964.6" y="214.75" fill="#CC3311">0.4</text><text x="964.6" y="131.92" fill="#CC3311">0.5</text><text x="964.6" y="49.10" fill="#CC3311">0.6</text><text x="101.00" y="610.3" text-anchor="middle" fill="#000">0</text><text x="314.43" y="610.3" text-anchor="middle" fill="#000">1</text><text x="527.85" y="610.3" text-anchor="middle" fill="#000">2</text><text x="741.28" y="610.3" text-anchor="middle" fill="#000">3</text><text x="954.70" y="610.3" text-anchor="middle" fill="#000">4</text></g>
<text transform="translate(35.4,598.8) rotate(-90)" font-family="'DejaVu Sans', 'Liberation Sans', sans-serif" font-size="45.85px" fill="#000">Scattering Matrix Elements</text>
<g font-family="'DejaVu Sans', 'Liberation Sans', sans-serif" fill="#000"><text y="691" font-size="46px"><tspan x="454.2" font-style="italic">q</tspan><tspan x="497">(</tspan><tspan x="513.9">Å</tspan><tspan x="583.6">)</tspan></text><text transform="translate(543.6,669.6) scale(0.82,1)" font-size="29.5px">−</text><text x="563.4" y="668.6" font-size="29.5px">1</text></g>
<line x1="751.00" y1="132.80" x2="817.00" y2="132.80" stroke="#0077BB" stroke-width="5"/>
<line x1="751.00" y1="207.00" x2="817.00" y2="207.00" stroke="#CC3311" stroke-width="5"/>
<g font-family="'DejaVu Sans', 'Liberation Sans', sans-serif" font-size="46px" fill="#000"><text x="836.3" y="146.4">AC</text><text x="836.3" y="220.5">EG</text></g>
</svg>
</body></html>
